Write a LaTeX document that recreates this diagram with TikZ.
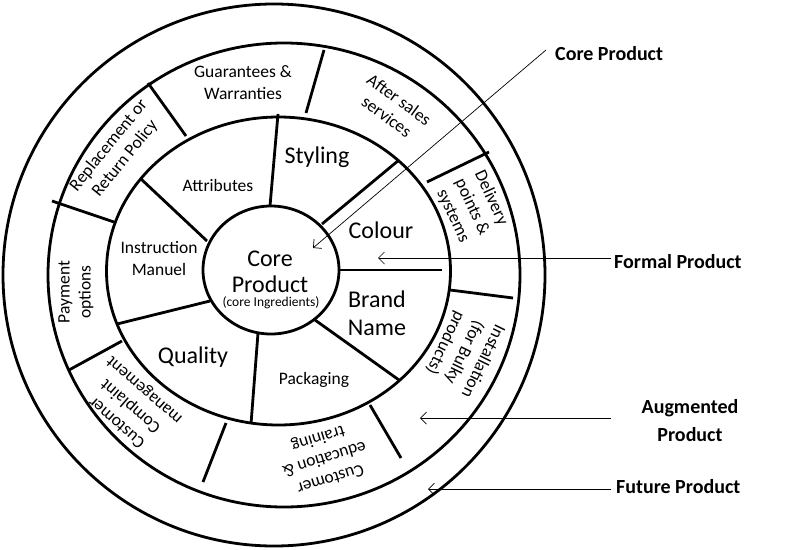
\documentclass[tikz,border=0pt]{standalone}
\usepackage{fontspec}
\setmainfont{Carlito}
\usetikzlibrary{arrows.meta}
\begin{document}
\begin{tikzpicture}[x=1pt,y=-1pt,
  ring/.style={line width=2.8pt},
  div/.style={line width=2.8pt},
  sm/.style={font=\fontsize{17.5}{21}\selectfont,align=center,inner sep=0pt},
  big/.style={font=\fontsize{24}{28}\selectfont,align=center,inner sep=0pt},
  lbl/.style={font=\bfseries\fontsize{20}{28}\selectfont,align=center,inner sep=0pt},
  arr/.style={line width=0.7pt,-{Straight Barb[length=6pt,width=12pt]}}]
\useasboundingbox (0,0) rectangle (787,549);
\draw[ring] (274,275) ellipse [x radius=271,y radius=271];
\draw[ring] (284,275) ellipse [x radius=236,y radius=232];
\draw[ring] (278.5,271) ellipse [x radius=172,y radius=154];
\draw[ring] (271,270) ellipse [x radius=68,y radius=64];
% formal dividers
\draw[div] (278,114)--(270,206);
\draw[div] (399,160)--(322,224);
\draw[div] (339,270)--(442,270);
\draw[div] (315,320)--(399,380);
\draw[div] (258,333)--(251,424);
\draw[div] (210,301)--(117,324);
\draw[div] (207,241)--(141,179);
% augmented dividers
\draw[div] (148,83)--(186,136);
\draw[div] (324,50)--(306,113);
\draw[div] (489,152)--(427,182);
\draw[div] (450,290)--(513,298);
\draw[div] (370,405)--(401,458);
\draw[div] (226,423)--(203,482);
\draw[div] (122,341)--(69,370);
\draw[div] (114,222)--(52,201);
% core
\node[big] (core) at (270,259) {Core};
\node[big] (prod) at (270,284) {Product};
\node[inner sep=0pt,font=\fontsize{13.5}{15}\selectfont] (ingr) at (271,303) {(core Ingredients)};
% formal
\node[sm] (attr) at (218,185) {Attributes};
\node[big] (styl) at (317,157) {Styling};
\node[big] (col) at (381,230) {Colour};
\node[big] (brand) at (377,313) {Brand\\Name};
\node[sm] (pack) at (314,380) {Packaging};
\node[big] (qual) at (193,357) {Quality};
\node[sm,font=\fontsize{17.5}{22}\selectfont] (instr) at (159,259) {Instruction\\Manuel};
% augmented
\node[sm,font=\fontsize{17.5}{22}\selectfont] (guar) at (243,83) {Guarantees \&\\Warranties};
\node[sm] (after) at (393,108) [rotate=-36] {After sales\\services};
\node[sm] (deliv) at (472,207) [rotate=-65] {Delivery\\points \&\\systems};
\node[sm] (inst) at (464,352) [rotate=-116] {Installation\\(for Bulky\\products)};
\node[sm] (edu) at (324,458) [rotate=-163] {Customer\\education \&\\training};
\node[sm] (compl) at (131,406) [rotate=139] {Customer\\Complaint\\management};
\node[sm] (pay) at (76,292) [rotate=90] {Payment\\options};
\node[sm] (repl) at (117,152) [rotate=51] {Replacement or\\Return Policy};
% labels
\node[lbl,anchor=west] (lcore) at (555,54) {Core Product};
\node[lbl,anchor=west] (lformal) at (614,262) {Formal Product};
\node[lbl] (laug) at (690,421) {Augmented\\Product};
\node[lbl,anchor=west] (lfut) at (616,487) {Future Product};
\coordinate (ecore) at (313,248);
\coordinate (eformal) at (378,258);
\coordinate (eaug) at (420,418);
\coordinate (efut) at (428,489);
\draw[arr] (546,50) coordinate (score) -- (ecore);
\draw[arr] (lformal.west) ++(-3,-4) -- (eformal);
\draw[arr] (611,418) coordinate (saug) -- (eaug);
\draw[arr] (lfut.west) ++(-5,2) -- (efut);
\end{tikzpicture}
\end{document}
